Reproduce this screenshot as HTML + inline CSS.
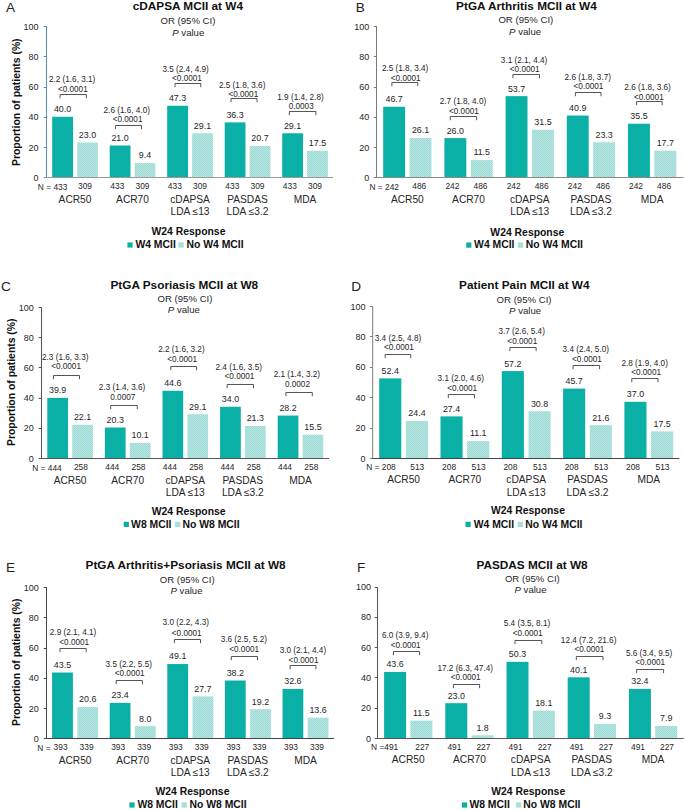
<!DOCTYPE html>
<html><head><meta charset="utf-8"><style>
html,body{margin:0;padding:0;background:#fff;}
body{width:685px;height:810px;overflow:hidden;}
svg{display:block;font-family:"Liberation Sans",sans-serif;}
</style></head><body>
<svg width="685" height="810" viewBox="0 0 685 810">
<defs><pattern id="hatch" patternUnits="userSpaceOnUse" width="2" height="2"><rect width="2" height="2" fill="#b6e6e2"/><rect width="1" height="1" fill="#9fdad5"/><rect x="1" y="1" width="1" height="1" fill="#9fdad5"/></pattern></defs>
<rect width="685" height="810" fill="#fff"/>
<text x="5.97" y="11.65" font-size="13.6" font-weight="normal" fill="#222" >A</text>
<text x="132.68" y="9.85" font-size="11.8" font-weight="bold" fill="#111" >cDAPSA MCII at W4</text>
<text x="160.47" y="24.35" font-size="9.6" font-weight="normal" fill="#262626" >OR (95% CI)</text>
<text x="172.27" y="36.35" font-size="9.6" fill="#262626"><tspan font-style="italic">P</tspan> value</text>
<line x1="43.70" y1="177.50" x2="46.50" y2="177.50" stroke="#5f8db0" stroke-width="1"/>
<text x="33.50" y="180.80" font-size="9" fill="#262626">0</text>
<line x1="43.70" y1="147.50" x2="46.50" y2="147.50" stroke="#5f8db0" stroke-width="1"/>
<text x="28.50" y="150.54" font-size="9" fill="#262626">20</text>
<line x1="43.70" y1="117.50" x2="46.50" y2="117.50" stroke="#5f8db0" stroke-width="1"/>
<text x="28.50" y="120.28" font-size="9" fill="#262626">40</text>
<line x1="43.70" y1="87.50" x2="46.50" y2="87.50" stroke="#5f8db0" stroke-width="1"/>
<text x="28.50" y="90.02" font-size="9" fill="#262626">60</text>
<line x1="43.70" y1="56.50" x2="46.50" y2="56.50" stroke="#5f8db0" stroke-width="1"/>
<text x="28.50" y="59.76" font-size="9" fill="#262626">80</text>
<line x1="43.70" y1="26.50" x2="46.50" y2="26.50" stroke="#5f8db0" stroke-width="1"/>
<text x="23.50" y="29.50" font-size="9" fill="#262626">100</text>
<line x1="46.50" y1="26.00" x2="46.50" y2="178.00" stroke="#5f8db0" stroke-width="1"/>
<rect x="52.20" y="116.78" width="20.80" height="60.52" fill="#0aafa5"/>
<rect x="77.10" y="142.50" width="20.80" height="34.80" fill="url(#hatch)"/>
<text x="53.95" y="112.18" font-size="8.9" font-weight="normal" fill="#262626" >40.0</text>
<text x="78.85" y="137.90" font-size="8.9" font-weight="normal" fill="#262626" >23.0</text>
<text x="48.90" y="82.25" font-size="8.2" font-weight="normal" fill="#262626" >2.2 (1.6, 3.1)</text>
<text x="57.92" y="92.05" font-size="8.2" font-weight="normal" fill="#262626" >&lt;0.0001</text>
<path d="M60.10,98.20 V94.50 H86.40 V98.20" stroke="#555" stroke-width="1" fill="none"/>
<text x="37.85" y="189.75" font-size="8.4" fill="#262626" xml:space="preserve">N = 433</text>
<text x="78.00" y="188.85" font-size="8.4" font-weight="normal" fill="#262626" >309</text>
<text x="58.60" y="202.70" font-size="10.2" font-weight="normal" fill="#262626" >ACR50</text>
<rect x="109.70" y="145.53" width="20.80" height="31.77" fill="#0aafa5"/>
<rect x="134.60" y="163.08" width="20.80" height="14.22" fill="url(#hatch)"/>
<text x="111.45" y="140.93" font-size="8.9" font-weight="normal" fill="#262626" >21.0</text>
<text x="138.82" y="158.48" font-size="8.9" font-weight="normal" fill="#262626" >9.4</text>
<text x="103.55" y="112.75" font-size="8.2" font-weight="normal" fill="#262626" >2.6 (1.6, 4.0)</text>
<text x="112.67" y="122.35" font-size="8.2" font-weight="normal" fill="#262626" >&lt;0.0001</text>
<path d="M115.40,129.20 V125.50 H141.50 V129.20" stroke="#555" stroke-width="1" fill="none"/>
<text x="110.35" y="188.85" font-size="8.4" font-weight="normal" fill="#262626" >433</text>
<text x="135.50" y="188.85" font-size="8.4" font-weight="normal" fill="#262626" >309</text>
<text x="116.10" y="202.70" font-size="10.2" font-weight="normal" fill="#262626" >ACR70</text>
<rect x="167.20" y="105.74" width="20.80" height="71.56" fill="#0aafa5"/>
<rect x="192.10" y="133.27" width="20.80" height="44.03" fill="url(#hatch)"/>
<text x="168.95" y="101.14" font-size="8.9" font-weight="normal" fill="#262626" >47.3</text>
<text x="193.85" y="128.67" font-size="8.9" font-weight="normal" fill="#262626" >29.1</text>
<text x="162.40" y="71.65" font-size="8.2" font-weight="normal" fill="#262626" >3.5 (2.4, 4.9)</text>
<text x="172.07" y="80.55" font-size="8.2" font-weight="normal" fill="#262626" >&lt;0.0001</text>
<path d="M175.00,87.20 V83.50 H200.80 V87.20" stroke="#555" stroke-width="1" fill="none"/>
<text x="167.85" y="188.85" font-size="8.4" font-weight="normal" fill="#262626" >433</text>
<text x="193.00" y="188.85" font-size="8.4" font-weight="normal" fill="#262626" >309</text>
<text x="170.20" y="202.70" font-size="10.2" font-weight="normal" fill="#262626" >cDAPSA</text>
<text x="170.52" y="214.80" font-size="10.2" font-weight="normal" fill="#262626" >LDA ≤13</text>
<rect x="224.70" y="122.38" width="20.80" height="54.92" fill="#0aafa5"/>
<rect x="249.60" y="145.98" width="20.80" height="31.32" fill="url(#hatch)"/>
<text x="226.45" y="117.78" font-size="8.9" font-weight="normal" fill="#262626" >36.3</text>
<text x="251.35" y="141.38" font-size="8.9" font-weight="normal" fill="#262626" >20.7</text>
<text x="218.95" y="87.75" font-size="8.2" font-weight="normal" fill="#262626" >2.5 (1.8, 3.6)</text>
<text x="228.38" y="96.65" font-size="8.2" font-weight="normal" fill="#262626" >&lt;0.0001</text>
<path d="M231.00,102.20 V98.50 H257.00 V102.20" stroke="#555" stroke-width="1" fill="none"/>
<text x="225.35" y="188.85" font-size="8.4" font-weight="normal" fill="#262626" >433</text>
<text x="250.50" y="188.85" font-size="8.4" font-weight="normal" fill="#262626" >309</text>
<text x="227.22" y="202.70" font-size="10.2" font-weight="normal" fill="#262626" >PASDAS</text>
<text x="226.60" y="214.80" font-size="10.2" font-weight="normal" fill="#262626" >LDA ≤3.2</text>
<rect x="282.20" y="133.27" width="20.80" height="44.03" fill="#0aafa5"/>
<rect x="307.10" y="150.82" width="20.80" height="26.48" fill="url(#hatch)"/>
<text x="283.95" y="128.67" font-size="8.9" font-weight="normal" fill="#262626" >29.1</text>
<text x="308.85" y="146.12" font-size="8.9" font-weight="normal" fill="#262626" >17.5</text>
<text x="277.25" y="100.15" font-size="8.2" font-weight="normal" fill="#262626" >1.9 (1.4, 2.8)</text>
<text x="288.65" y="109.15" font-size="8.2" font-weight="normal" fill="#262626" >0.0003</text>
<path d="M289.30,115.20 V111.50 H315.90 V115.20" stroke="#555" stroke-width="1" fill="none"/>
<text x="282.85" y="188.85" font-size="8.4" font-weight="normal" fill="#262626" >433</text>
<text x="308.00" y="188.85" font-size="8.4" font-weight="normal" fill="#262626" >309</text>
<text x="293.73" y="202.60" font-size="10.2" font-weight="normal" fill="#262626" >MDA</text>
<line x1="46.00" y1="177.50" x2="333.00" y2="177.50" stroke="#9a9a9a" stroke-width="1"/>
<text x="20.10" y="102.20" font-size="10.4" font-weight="bold" fill="#111" text-anchor="middle" transform="rotate(-90 20.10 102.20)">Proportion of patients (%)</text>
<text x="151.50" y="234.85" font-size="10.4" font-weight="bold" fill="#111" >W24 Response</text>
<rect x="127.40" y="242.40" width="5.20" height="5.20" fill="#0aafa5"/>
<text x="135.40" y="248.15" font-size="10.4" font-weight="bold" fill="#111" >W4 MCII</text>
<rect x="178.30" y="242.40" width="5.40" height="5.20" fill="#a8dfdb"/>
<text x="186.50" y="248.15" font-size="10.4" font-weight="bold" fill="#111" >No W4 MCII</text>
<text x="355.68" y="11.75" font-size="13.6" font-weight="normal" fill="#222" >B</text>
<text x="456.08" y="9.95" font-size="11.8" font-weight="bold" fill="#111" >PtGA Arthritis MCII at W4</text>
<text x="498.42" y="23.15" font-size="9.6" font-weight="normal" fill="#262626" >OR (95% CI)</text>
<text x="509.07" y="34.95" font-size="9.6" fill="#262626"><tspan font-style="italic">P</tspan> value</text>
<line x1="373.70" y1="177.50" x2="376.50" y2="177.50" stroke="#7a7a7a" stroke-width="1"/>
<text x="364.20" y="181.00" font-size="9" fill="#262626">0</text>
<line x1="373.70" y1="147.50" x2="376.50" y2="147.50" stroke="#7a7a7a" stroke-width="1"/>
<text x="359.20" y="150.70" font-size="9" fill="#262626">20</text>
<line x1="373.70" y1="117.50" x2="376.50" y2="117.50" stroke="#7a7a7a" stroke-width="1"/>
<text x="359.20" y="120.40" font-size="9" fill="#262626">40</text>
<line x1="373.70" y1="87.50" x2="376.50" y2="87.50" stroke="#7a7a7a" stroke-width="1"/>
<text x="359.20" y="90.10" font-size="9" fill="#262626">60</text>
<line x1="373.70" y1="56.50" x2="376.50" y2="56.50" stroke="#7a7a7a" stroke-width="1"/>
<text x="359.20" y="59.80" font-size="9" fill="#262626">80</text>
<line x1="373.70" y1="26.50" x2="376.50" y2="26.50" stroke="#7a7a7a" stroke-width="1"/>
<text x="354.20" y="29.50" font-size="9" fill="#262626">100</text>
<line x1="376.50" y1="26.00" x2="376.50" y2="178.00" stroke="#7a7a7a" stroke-width="1"/>
<rect x="383.20" y="106.75" width="21.90" height="70.75" fill="#0aafa5"/>
<rect x="409.60" y="137.96" width="21.90" height="39.54" fill="url(#hatch)"/>
<text x="385.50" y="102.15" font-size="8.9" font-weight="normal" fill="#262626" >46.7</text>
<text x="411.90" y="133.36" font-size="8.9" font-weight="normal" fill="#262626" >26.1</text>
<text x="381.90" y="71.05" font-size="8.2" font-weight="normal" fill="#262626" >2.5 (1.8, 3.4)</text>
<text x="390.82" y="80.65" font-size="8.2" font-weight="normal" fill="#262626" >&lt;0.0001</text>
<path d="M391.90,86.20 V82.50 H417.80 V86.20" stroke="#555" stroke-width="1" fill="none"/>
<text x="369.45" y="189.95" font-size="8.4" fill="#262626" xml:space="preserve">N = 242</text>
<text x="412.30" y="189.05" font-size="8.4" font-weight="normal" fill="#262626" >486</text>
<text x="390.90" y="202.90" font-size="10.2" font-weight="normal" fill="#262626" >ACR50</text>
<rect x="444.40" y="138.11" width="21.90" height="39.39" fill="#0aafa5"/>
<rect x="470.80" y="160.08" width="21.90" height="17.42" fill="url(#hatch)"/>
<text x="446.70" y="133.51" font-size="8.9" font-weight="normal" fill="#262626" >26.0</text>
<text x="473.42" y="155.38" font-size="8.9" font-weight="normal" fill="#262626" >11.5</text>
<text x="439.75" y="104.35" font-size="8.2" font-weight="normal" fill="#262626" >2.7 (1.8, 4.0)</text>
<text x="448.97" y="114.05" font-size="8.2" font-weight="normal" fill="#262626" >&lt;0.0001</text>
<path d="M450.30,120.20 V116.50 H476.70 V120.20" stroke="#555" stroke-width="1" fill="none"/>
<text x="445.45" y="189.05" font-size="8.4" font-weight="normal" fill="#262626" >242</text>
<text x="473.50" y="189.05" font-size="8.4" font-weight="normal" fill="#262626" >486</text>
<text x="452.10" y="202.90" font-size="10.2" font-weight="normal" fill="#262626" >ACR70</text>
<rect x="505.60" y="96.14" width="21.90" height="81.36" fill="#0aafa5"/>
<rect x="532.00" y="129.78" width="21.90" height="47.72" fill="url(#hatch)"/>
<text x="507.90" y="91.54" font-size="8.9" font-weight="normal" fill="#262626" >53.7</text>
<text x="534.30" y="125.18" font-size="8.9" font-weight="normal" fill="#262626" >31.5</text>
<text x="500.85" y="62.85" font-size="8.2" font-weight="normal" fill="#262626" >3.1 (2.1, 4.4)</text>
<text x="509.78" y="72.35" font-size="8.2" font-weight="normal" fill="#262626" >&lt;0.0001</text>
<path d="M512.90,78.20 V74.50 H539.50 V78.20" stroke="#555" stroke-width="1" fill="none"/>
<text x="506.65" y="189.05" font-size="8.4" font-weight="normal" fill="#262626" >242</text>
<text x="534.70" y="189.05" font-size="8.4" font-weight="normal" fill="#262626" >486</text>
<text x="509.90" y="202.90" font-size="10.2" font-weight="normal" fill="#262626" >cDAPSA</text>
<text x="510.23" y="215.00" font-size="10.2" font-weight="normal" fill="#262626" >LDA ≤13</text>
<rect x="566.80" y="115.54" width="21.90" height="61.96" fill="#0aafa5"/>
<rect x="593.20" y="142.20" width="21.90" height="35.30" fill="url(#hatch)"/>
<text x="569.10" y="110.94" font-size="8.9" font-weight="normal" fill="#262626" >40.9</text>
<text x="595.50" y="137.60" font-size="8.9" font-weight="normal" fill="#262626" >23.3</text>
<text x="564.55" y="80.05" font-size="8.2" font-weight="normal" fill="#262626" >2.6 (1.8, 3.7)</text>
<text x="573.58" y="89.45" font-size="8.2" font-weight="normal" fill="#262626" >&lt;0.0001</text>
<path d="M575.40,96.20 V92.50 H601.00 V96.20" stroke="#555" stroke-width="1" fill="none"/>
<text x="567.85" y="189.05" font-size="8.4" font-weight="normal" fill="#262626" >242</text>
<text x="595.90" y="189.05" font-size="8.4" font-weight="normal" fill="#262626" >486</text>
<text x="570.62" y="202.90" font-size="10.2" font-weight="normal" fill="#262626" >PASDAS</text>
<text x="570.00" y="215.00" font-size="10.2" font-weight="normal" fill="#262626" >LDA ≤3.2</text>
<rect x="628.00" y="123.72" width="21.90" height="53.78" fill="#0aafa5"/>
<rect x="654.40" y="150.68" width="21.90" height="26.82" fill="url(#hatch)"/>
<text x="630.30" y="119.12" font-size="8.9" font-weight="normal" fill="#262626" >35.5</text>
<text x="656.70" y="145.98" font-size="8.9" font-weight="normal" fill="#262626" >17.7</text>
<text x="624.35" y="89.65" font-size="8.2" font-weight="normal" fill="#262626" >2.6 (1.8, 3.6)</text>
<text x="633.88" y="99.75" font-size="8.2" font-weight="normal" fill="#262626" >&lt;0.0001</text>
<path d="M636.60,105.20 V101.50 H662.20 V105.20" stroke="#555" stroke-width="1" fill="none"/>
<text x="629.05" y="189.05" font-size="8.4" font-weight="normal" fill="#262626" >242</text>
<text x="657.10" y="189.05" font-size="8.4" font-weight="normal" fill="#262626" >486</text>
<text x="640.82" y="202.80" font-size="10.2" font-weight="normal" fill="#262626" >MDA</text>
<line x1="376.00" y1="177.50" x2="683.60" y2="177.50" stroke="#8a8a8a" stroke-width="1"/>
<text x="490.35" y="235.85" font-size="10.4" font-weight="bold" fill="#111" >W24 Response</text>
<rect x="466.20" y="242.50" width="5.20" height="5.20" fill="#0aafa5"/>
<text x="474.10" y="248.25" font-size="10.4" font-weight="bold" fill="#111" >W4 MCII</text>
<rect x="517.80" y="242.50" width="5.40" height="5.20" fill="#a8dfdb"/>
<text x="525.80" y="248.25" font-size="10.4" font-weight="bold" fill="#111" >No W4 MCII</text>
<text x="1.00" y="290.90" font-size="13.6" font-weight="normal" fill="#222" >C</text>
<text x="110.43" y="288.95" font-size="11.8" font-weight="bold" fill="#111" >PtGA Psoriasis MCII at W8</text>
<text x="157.53" y="301.85" font-size="9.6" font-weight="normal" fill="#262626" >OR (95% CI)</text>
<text x="167.82" y="313.35" font-size="9.6" fill="#262626"><tspan font-style="italic">P</tspan> value</text>
<line x1="38.70" y1="458.50" x2="41.50" y2="458.50" stroke="#555555" stroke-width="1"/>
<text x="28.70" y="461.70" font-size="9" fill="#262626">0</text>
<line x1="38.70" y1="428.50" x2="41.50" y2="428.50" stroke="#555555" stroke-width="1"/>
<text x="23.70" y="431.46" font-size="9" fill="#262626">20</text>
<line x1="38.70" y1="398.50" x2="41.50" y2="398.50" stroke="#555555" stroke-width="1"/>
<text x="23.70" y="401.22" font-size="9" fill="#262626">40</text>
<line x1="38.70" y1="367.50" x2="41.50" y2="367.50" stroke="#555555" stroke-width="1"/>
<text x="23.70" y="370.98" font-size="9" fill="#262626">60</text>
<line x1="38.70" y1="337.50" x2="41.50" y2="337.50" stroke="#555555" stroke-width="1"/>
<text x="23.70" y="340.74" font-size="9" fill="#262626">80</text>
<line x1="38.70" y1="307.50" x2="41.50" y2="307.50" stroke="#555555" stroke-width="1"/>
<text x="18.70" y="310.50" font-size="9" fill="#262626">100</text>
<line x1="41.50" y1="307.00" x2="41.50" y2="459.00" stroke="#555555" stroke-width="1"/>
<rect x="47.30" y="397.87" width="20.70" height="60.33" fill="#0aafa5"/>
<rect x="72.20" y="424.78" width="20.70" height="33.42" fill="url(#hatch)"/>
<text x="49.00" y="393.27" font-size="8.9" font-weight="normal" fill="#262626" >39.9</text>
<text x="73.90" y="420.18" font-size="8.9" font-weight="normal" fill="#262626" >22.1</text>
<text x="42.00" y="359.85" font-size="8.2" font-weight="normal" fill="#262626" >2.3 (1.6, 3.3)</text>
<text x="51.17" y="369.45" font-size="8.2" font-weight="normal" fill="#262626" >&lt;0.0001</text>
<path d="M53.50,379.20 V375.50 H79.50 V379.20" stroke="#555" stroke-width="1" fill="none"/>
<text x="32.15" y="470.60" font-size="8.4" fill="#262626" xml:space="preserve">N = 444</text>
<text x="73.95" y="469.75" font-size="8.4" font-weight="normal" fill="#262626" >258</text>
<text x="53.65" y="483.60" font-size="10.2" font-weight="normal" fill="#262626" >ACR50</text>
<rect x="104.90" y="427.51" width="20.70" height="30.69" fill="#0aafa5"/>
<rect x="129.80" y="442.93" width="20.70" height="15.27" fill="url(#hatch)"/>
<text x="106.60" y="422.91" font-size="8.9" font-weight="normal" fill="#262626" >20.3</text>
<text x="131.50" y="438.33" font-size="8.9" font-weight="normal" fill="#262626" >10.1</text>
<text x="98.85" y="389.85" font-size="8.2" font-weight="normal" fill="#262626" >2.3 (1.4, 3.6)</text>
<text x="110.25" y="399.55" font-size="8.2" font-weight="normal" fill="#262626" >0.0007</text>
<path d="M110.70,409.20 V405.50 H137.30 V409.20" stroke="#555" stroke-width="1" fill="none"/>
<text x="105.25" y="469.70" font-size="8.4" font-weight="normal" fill="#262626" >444</text>
<text x="131.55" y="469.75" font-size="8.4" font-weight="normal" fill="#262626" >258</text>
<text x="111.25" y="483.60" font-size="10.2" font-weight="normal" fill="#262626" >ACR70</text>
<rect x="162.50" y="390.76" width="20.70" height="67.44" fill="#0aafa5"/>
<rect x="187.40" y="414.20" width="20.70" height="44.00" fill="url(#hatch)"/>
<text x="164.20" y="386.16" font-size="8.9" font-weight="normal" fill="#262626" >44.6</text>
<text x="189.10" y="409.60" font-size="8.9" font-weight="normal" fill="#262626" >29.1</text>
<text x="158.20" y="352.15" font-size="8.2" font-weight="normal" fill="#262626" >2.2 (1.6, 3.2)</text>
<text x="167.27" y="361.65" font-size="8.2" font-weight="normal" fill="#262626" >&lt;0.0001</text>
<path d="M170.80,370.20 V366.50 H196.60 V370.20" stroke="#555" stroke-width="1" fill="none"/>
<text x="162.85" y="469.70" font-size="8.4" font-weight="normal" fill="#262626" >444</text>
<text x="189.15" y="469.75" font-size="8.4" font-weight="normal" fill="#262626" >258</text>
<text x="165.45" y="483.60" font-size="10.2" font-weight="normal" fill="#262626" >cDAPSA</text>
<text x="165.78" y="495.70" font-size="10.2" font-weight="normal" fill="#262626" >LDA ≤13</text>
<rect x="220.10" y="406.79" width="20.70" height="51.41" fill="#0aafa5"/>
<rect x="245.00" y="425.99" width="20.70" height="32.21" fill="url(#hatch)"/>
<text x="221.80" y="402.19" font-size="8.9" font-weight="normal" fill="#262626" >34.0</text>
<text x="246.70" y="421.39" font-size="8.9" font-weight="normal" fill="#262626" >21.3</text>
<text x="215.50" y="369.65" font-size="8.2" font-weight="normal" fill="#262626" >2.4 (1.6, 3.5)</text>
<text x="224.52" y="379.15" font-size="8.2" font-weight="normal" fill="#262626" >&lt;0.0001</text>
<path d="M227.10,388.20 V384.50 H253.50 V388.20" stroke="#555" stroke-width="1" fill="none"/>
<text x="220.45" y="469.70" font-size="8.4" font-weight="normal" fill="#262626" >444</text>
<text x="246.75" y="469.75" font-size="8.4" font-weight="normal" fill="#262626" >258</text>
<text x="222.58" y="483.60" font-size="10.2" font-weight="normal" fill="#262626" >PASDAS</text>
<text x="221.95" y="495.70" font-size="10.2" font-weight="normal" fill="#262626" >LDA ≤3.2</text>
<rect x="277.70" y="415.56" width="20.70" height="42.64" fill="#0aafa5"/>
<rect x="302.60" y="434.76" width="20.70" height="23.44" fill="url(#hatch)"/>
<text x="279.40" y="410.96" font-size="8.9" font-weight="normal" fill="#262626" >28.2</text>
<text x="304.30" y="430.06" font-size="8.9" font-weight="normal" fill="#262626" >15.5</text>
<text x="273.65" y="377.35" font-size="8.2" font-weight="normal" fill="#262626" >2.1 (1.4, 3.2)</text>
<text x="284.95" y="386.95" font-size="8.2" font-weight="normal" fill="#262626" >0.0002</text>
<path d="M285.90,396.20 V392.50 H312.30 V396.20" stroke="#555" stroke-width="1" fill="none"/>
<text x="278.05" y="469.70" font-size="8.4" font-weight="normal" fill="#262626" >444</text>
<text x="304.35" y="469.75" font-size="8.4" font-weight="normal" fill="#262626" >258</text>
<text x="289.18" y="483.50" font-size="10.2" font-weight="normal" fill="#262626" >MDA</text>
<line x1="41.00" y1="458.50" x2="329.00" y2="458.50" stroke="#555555" stroke-width="1"/>
<text x="14.75" y="382.25" font-size="10.4" font-weight="bold" fill="#111" text-anchor="middle" transform="rotate(-90 14.75 382.25)">Proportion of patients (%)</text>
<text x="151.70" y="514.85" font-size="10.4" font-weight="bold" fill="#111" >W24 Response</text>
<rect x="123.70" y="521.80" width="5.20" height="5.20" fill="#0aafa5"/>
<text x="131.10" y="527.55" font-size="10.4" font-weight="bold" fill="#111" >W8 MCII</text>
<rect x="175.00" y="521.80" width="5.40" height="5.20" fill="#a8dfdb"/>
<text x="182.50" y="527.55" font-size="10.4" font-weight="bold" fill="#111" >No W8 MCII</text>
<text x="351.35" y="291.45" font-size="13.6" font-weight="normal" fill="#222" >D</text>
<text x="459.12" y="289.45" font-size="11.8" font-weight="bold" fill="#111" >Patient Pain MCII at W4</text>
<text x="496.62" y="302.85" font-size="9.6" font-weight="normal" fill="#262626" >OR (95% CI)</text>
<text x="509.07" y="313.85" font-size="9.6" fill="#262626"><tspan font-style="italic">P</tspan> value</text>
<line x1="369.90" y1="458.50" x2="372.70" y2="458.50" stroke="#7a7a7a" stroke-width="1"/>
<text x="360.50" y="461.50" font-size="9" fill="#262626">0</text>
<line x1="369.90" y1="428.50" x2="372.70" y2="428.50" stroke="#7a7a7a" stroke-width="1"/>
<text x="355.50" y="431.12" font-size="9" fill="#262626">20</text>
<line x1="369.90" y1="397.50" x2="372.70" y2="397.50" stroke="#7a7a7a" stroke-width="1"/>
<text x="355.50" y="400.74" font-size="9" fill="#262626">40</text>
<line x1="369.90" y1="367.50" x2="372.70" y2="367.50" stroke="#7a7a7a" stroke-width="1"/>
<text x="355.50" y="370.36" font-size="9" fill="#262626">60</text>
<line x1="369.90" y1="336.50" x2="372.70" y2="336.50" stroke="#7a7a7a" stroke-width="1"/>
<text x="355.50" y="339.98" font-size="9" fill="#262626">80</text>
<line x1="369.90" y1="306.50" x2="372.70" y2="306.50" stroke="#7a7a7a" stroke-width="1"/>
<text x="350.50" y="309.60" font-size="9" fill="#262626">100</text>
<line x1="372.70" y1="306.00" x2="372.70" y2="459.00" stroke="#7a7a7a" stroke-width="1"/>
<rect x="379.20" y="378.40" width="22.10" height="79.60" fill="#0aafa5"/>
<rect x="405.90" y="420.94" width="22.10" height="37.06" fill="url(#hatch)"/>
<text x="381.60" y="373.80" font-size="8.9" font-weight="normal" fill="#262626" >52.4</text>
<text x="408.30" y="416.34" font-size="8.9" font-weight="normal" fill="#262626" >24.4</text>
<text x="374.75" y="340.75" font-size="8.2" font-weight="normal" fill="#262626" >3.4 (2.5, 4.8)</text>
<text x="384.02" y="349.65" font-size="8.2" font-weight="normal" fill="#262626" >&lt;0.0001</text>
<path d="M385.20,358.20 V354.50 H410.70 V358.20" stroke="#555" stroke-width="1" fill="none"/>
<text x="366.15" y="470.45" font-size="8.4" fill="#262626" xml:space="preserve">N = 208</text>
<text x="410.30" y="469.55" font-size="8.4" font-weight="normal" fill="#262626" >513</text>
<text x="387.15" y="483.40" font-size="10.2" font-weight="normal" fill="#262626" >ACR50</text>
<rect x="440.50" y="416.38" width="22.10" height="41.62" fill="#0aafa5"/>
<rect x="467.20" y="441.14" width="22.10" height="16.86" fill="url(#hatch)"/>
<text x="442.90" y="411.78" font-size="8.9" font-weight="normal" fill="#262626" >27.4</text>
<text x="469.93" y="436.44" font-size="8.9" font-weight="normal" fill="#262626" >11.1</text>
<text x="437.55" y="381.45" font-size="8.2" font-weight="normal" fill="#262626" >3.1 (2.0, 4.6)</text>
<text x="447.27" y="391.05" font-size="8.2" font-weight="normal" fill="#262626" >&lt;0.0001</text>
<path d="M448.30,398.20 V394.50 H474.50 V398.20" stroke="#555" stroke-width="1" fill="none"/>
<text x="442.10" y="469.55" font-size="8.4" font-weight="normal" fill="#262626" >208</text>
<text x="471.60" y="469.55" font-size="8.4" font-weight="normal" fill="#262626" >513</text>
<text x="448.45" y="483.40" font-size="10.2" font-weight="normal" fill="#262626" >ACR70</text>
<rect x="501.80" y="371.11" width="22.10" height="86.89" fill="#0aafa5"/>
<rect x="528.50" y="411.21" width="22.10" height="46.79" fill="url(#hatch)"/>
<text x="504.20" y="366.51" font-size="8.9" font-weight="normal" fill="#262626" >57.2</text>
<text x="530.90" y="406.61" font-size="8.9" font-weight="normal" fill="#262626" >30.8</text>
<text x="498.45" y="334.35" font-size="8.2" font-weight="normal" fill="#262626" >3.7 (2.6, 5.4)</text>
<text x="507.37" y="343.75" font-size="8.2" font-weight="normal" fill="#262626" >&lt;0.0001</text>
<path d="M509.90,351.20 V347.50 H536.10 V351.20" stroke="#555" stroke-width="1" fill="none"/>
<text x="503.40" y="469.55" font-size="8.4" font-weight="normal" fill="#262626" >208</text>
<text x="532.90" y="469.55" font-size="8.4" font-weight="normal" fill="#262626" >513</text>
<text x="506.35" y="483.40" font-size="10.2" font-weight="normal" fill="#262626" >cDAPSA</text>
<text x="506.67" y="495.50" font-size="10.2" font-weight="normal" fill="#262626" >LDA ≤13</text>
<rect x="563.10" y="388.58" width="22.10" height="69.42" fill="#0aafa5"/>
<rect x="589.80" y="425.19" width="22.10" height="32.81" fill="url(#hatch)"/>
<text x="565.50" y="383.88" font-size="8.9" font-weight="normal" fill="#262626" >45.7</text>
<text x="592.20" y="420.59" font-size="8.9" font-weight="normal" fill="#262626" >21.6</text>
<text x="562.55" y="351.95" font-size="8.2" font-weight="normal" fill="#262626" >3.4 (2.4, 5.0)</text>
<text x="572.08" y="361.75" font-size="8.2" font-weight="normal" fill="#262626" >&lt;0.0001</text>
<path d="M573.10,369.20 V365.50 H599.60 V369.20" stroke="#555" stroke-width="1" fill="none"/>
<text x="564.70" y="469.55" font-size="8.4" font-weight="normal" fill="#262626" >208</text>
<text x="594.20" y="469.55" font-size="8.4" font-weight="normal" fill="#262626" >513</text>
<text x="567.17" y="483.40" font-size="10.2" font-weight="normal" fill="#262626" >PASDAS</text>
<text x="566.55" y="495.50" font-size="10.2" font-weight="normal" fill="#262626" >LDA ≤3.2</text>
<rect x="624.40" y="401.80" width="22.10" height="56.20" fill="#0aafa5"/>
<rect x="651.10" y="431.42" width="22.10" height="26.58" fill="url(#hatch)"/>
<text x="626.80" y="397.20" font-size="8.9" font-weight="normal" fill="#262626" >37.0</text>
<text x="653.50" y="426.72" font-size="8.9" font-weight="normal" fill="#262626" >17.5</text>
<text x="621.45" y="365.65" font-size="8.2" font-weight="normal" fill="#262626" >2.8 (1.9, 4.0)</text>
<text x="631.18" y="375.15" font-size="8.2" font-weight="normal" fill="#262626" >&lt;0.0001</text>
<path d="M631.80,382.20 V378.50 H658.00 V382.20" stroke="#555" stroke-width="1" fill="none"/>
<text x="626.00" y="469.55" font-size="8.4" font-weight="normal" fill="#262626" >208</text>
<text x="655.50" y="469.55" font-size="8.4" font-weight="normal" fill="#262626" >513</text>
<text x="637.47" y="483.30" font-size="10.2" font-weight="normal" fill="#262626" >MDA</text>
<line x1="372.20" y1="458.50" x2="679.30" y2="458.50" stroke="#444444" stroke-width="1"/>
<text x="491.00" y="514.15" font-size="10.4" font-weight="bold" fill="#111" >W24 Response</text>
<rect x="465.50" y="521.80" width="5.20" height="5.20" fill="#0aafa5"/>
<text x="473.70" y="527.55" font-size="10.4" font-weight="bold" fill="#111" >W4 MCII</text>
<rect x="517.60" y="521.80" width="5.40" height="5.20" fill="#a8dfdb"/>
<text x="525.30" y="527.55" font-size="10.4" font-weight="bold" fill="#111" >No W4 MCII</text>
<text x="5.88" y="571.95" font-size="13.6" font-weight="normal" fill="#222" >E</text>
<text x="85.55" y="569.25" font-size="11.8" font-weight="bold" fill="#111" >PtGA Arthritis+Psoriasis MCII at W8</text>
<text x="159.72" y="582.75" font-size="9.6" font-weight="normal" fill="#262626" >OR (95% CI)</text>
<text x="170.52" y="594.45" font-size="9.6" fill="#262626"><tspan font-style="italic">P</tspan> value</text>
<line x1="43.70" y1="738.50" x2="46.50" y2="738.50" stroke="#444444" stroke-width="1"/>
<text x="33.80" y="741.70" font-size="9" fill="#262626">0</text>
<line x1="43.70" y1="708.50" x2="46.50" y2="708.50" stroke="#444444" stroke-width="1"/>
<text x="28.80" y="711.50" font-size="9" fill="#262626">20</text>
<line x1="43.70" y1="678.50" x2="46.50" y2="678.50" stroke="#444444" stroke-width="1"/>
<text x="28.80" y="681.30" font-size="9" fill="#262626">40</text>
<line x1="43.70" y1="648.50" x2="46.50" y2="648.50" stroke="#444444" stroke-width="1"/>
<text x="28.80" y="651.10" font-size="9" fill="#262626">60</text>
<line x1="43.70" y1="617.50" x2="46.50" y2="617.50" stroke="#444444" stroke-width="1"/>
<text x="28.80" y="620.90" font-size="9" fill="#262626">80</text>
<line x1="43.70" y1="587.50" x2="46.50" y2="587.50" stroke="#444444" stroke-width="1"/>
<text x="23.80" y="590.70" font-size="9" fill="#262626">100</text>
<line x1="46.50" y1="587.00" x2="46.50" y2="739.00" stroke="#444444" stroke-width="1"/>
<rect x="52.10" y="672.52" width="20.80" height="65.69" fill="#0aafa5"/>
<rect x="77.30" y="707.09" width="20.80" height="31.11" fill="url(#hatch)"/>
<text x="53.85" y="667.92" font-size="8.9" font-weight="normal" fill="#262626" >43.5</text>
<text x="79.05" y="702.49" font-size="8.9" font-weight="normal" fill="#262626" >20.6</text>
<text x="49.85" y="635.15" font-size="8.2" font-weight="normal" fill="#262626" >2.9 (2.1, 4.1)</text>
<text x="59.33" y="644.75" font-size="8.2" font-weight="normal" fill="#262626" >&lt;0.0001</text>
<path d="M60.00,652.20 V648.50 H86.20 V652.20" stroke="#555" stroke-width="1" fill="none"/>
<text x="37.30" y="750.60" font-size="8.4" fill="#262626" xml:space="preserve">N =</text>
<text x="53.60" y="749.75" font-size="8.4" font-weight="normal" fill="#262626" >393</text>
<text x="79.60" y="749.75" font-size="8.4" font-weight="normal" fill="#262626" >339</text>
<text x="58.65" y="763.60" font-size="10.2" font-weight="normal" fill="#262626" >ACR50</text>
<rect x="109.70" y="702.87" width="20.80" height="35.33" fill="#0aafa5"/>
<rect x="134.90" y="726.12" width="20.80" height="12.08" fill="url(#hatch)"/>
<text x="111.45" y="698.27" font-size="8.9" font-weight="normal" fill="#262626" >23.4</text>
<text x="139.12" y="721.52" font-size="8.9" font-weight="normal" fill="#262626" >8.0</text>
<text x="105.55" y="667.05" font-size="8.2" font-weight="normal" fill="#262626" >3.5 (2.2, 5.5)</text>
<text x="114.73" y="676.45" font-size="8.2" font-weight="normal" fill="#262626" >&lt;0.0001</text>
<path d="M116.20,684.20 V680.50 H142.40 V684.20" stroke="#555" stroke-width="1" fill="none"/>
<text x="111.20" y="749.75" font-size="8.4" font-weight="normal" fill="#262626" >393</text>
<text x="137.20" y="749.75" font-size="8.4" font-weight="normal" fill="#262626" >339</text>
<text x="116.25" y="763.60" font-size="10.2" font-weight="normal" fill="#262626" >ACR70</text>
<rect x="167.30" y="664.06" width="20.80" height="74.14" fill="#0aafa5"/>
<rect x="192.50" y="696.37" width="20.80" height="41.83" fill="url(#hatch)"/>
<text x="169.05" y="659.46" font-size="8.9" font-weight="normal" fill="#262626" >49.1</text>
<text x="194.25" y="691.77" font-size="8.9" font-weight="normal" fill="#262626" >27.7</text>
<text x="162.55" y="625.45" font-size="8.2" font-weight="normal" fill="#262626" >3.0 (2.2, 4.3)</text>
<text x="171.82" y="635.85" font-size="8.2" font-weight="normal" fill="#262626" >&lt;0.0001</text>
<path d="M174.40,643.20 V639.50 H200.50 V643.20" stroke="#555" stroke-width="1" fill="none"/>
<text x="168.80" y="749.75" font-size="8.4" font-weight="normal" fill="#262626" >393</text>
<text x="194.80" y="749.75" font-size="8.4" font-weight="normal" fill="#262626" >339</text>
<text x="170.45" y="763.60" font-size="10.2" font-weight="normal" fill="#262626" >cDAPSA</text>
<text x="170.78" y="775.70" font-size="10.2" font-weight="normal" fill="#262626" >LDA ≤13</text>
<rect x="224.90" y="680.52" width="20.80" height="57.68" fill="#0aafa5"/>
<rect x="250.10" y="709.21" width="20.80" height="28.99" fill="url(#hatch)"/>
<text x="226.65" y="675.92" font-size="8.9" font-weight="normal" fill="#262626" >38.2</text>
<text x="251.85" y="704.61" font-size="8.9" font-weight="normal" fill="#262626" >19.2</text>
<text x="220.65" y="642.15" font-size="8.2" font-weight="normal" fill="#262626" >3.6 (2.5, 5.2)</text>
<text x="229.22" y="652.45" font-size="8.2" font-weight="normal" fill="#262626" >&lt;0.0001</text>
<path d="M231.30,660.20 V656.50 H257.60 V660.20" stroke="#555" stroke-width="1" fill="none"/>
<text x="226.40" y="749.75" font-size="8.4" font-weight="normal" fill="#262626" >393</text>
<text x="252.40" y="749.75" font-size="8.4" font-weight="normal" fill="#262626" >339</text>
<text x="227.58" y="763.60" font-size="10.2" font-weight="normal" fill="#262626" >PASDAS</text>
<text x="226.95" y="775.70" font-size="10.2" font-weight="normal" fill="#262626" >LDA ≤3.2</text>
<rect x="282.50" y="688.97" width="20.80" height="49.23" fill="#0aafa5"/>
<rect x="307.70" y="717.66" width="20.80" height="20.54" fill="url(#hatch)"/>
<text x="284.25" y="684.37" font-size="8.9" font-weight="normal" fill="#262626" >32.6</text>
<text x="309.45" y="713.06" font-size="8.9" font-weight="normal" fill="#262626" >13.6</text>
<text x="279.70" y="652.65" font-size="8.2" font-weight="normal" fill="#262626" >3.0 (2.1, 4.4)</text>
<text x="288.62" y="662.75" font-size="8.2" font-weight="normal" fill="#262626" >&lt;0.0001</text>
<path d="M290.10,669.20 V665.50 H315.90 V669.20" stroke="#555" stroke-width="1" fill="none"/>
<text x="284.00" y="749.75" font-size="8.4" font-weight="normal" fill="#262626" >393</text>
<text x="310.00" y="749.75" font-size="8.4" font-weight="normal" fill="#262626" >339</text>
<text x="294.18" y="763.50" font-size="10.2" font-weight="normal" fill="#262626" >MDA</text>
<line x1="46.00" y1="738.50" x2="334.00" y2="738.50" stroke="#444444" stroke-width="1"/>
<text x="20.10" y="662.25" font-size="10.4" font-weight="bold" fill="#111" text-anchor="middle" transform="rotate(-90 20.10 662.25)">Proportion of patients (%)</text>
<text x="155.50" y="794.85" font-size="10.4" font-weight="bold" fill="#111" >W24 Response</text>
<rect x="129.40" y="802.40" width="5.20" height="5.20" fill="#0aafa5"/>
<text x="137.40" y="808.15" font-size="10.4" font-weight="bold" fill="#111" >W8 MCII</text>
<rect x="181.60" y="802.40" width="5.40" height="5.20" fill="#a8dfdb"/>
<text x="189.50" y="808.15" font-size="10.4" font-weight="bold" fill="#111" >No W8 MCII</text>
<text x="357.05" y="571.95" font-size="13.6" font-weight="normal" fill="#222" >F</text>
<text x="476.42" y="569.05" font-size="11.8" font-weight="bold" fill="#111" >PASDAS MCII at W8</text>
<text x="504.92" y="582.45" font-size="9.6" font-weight="normal" fill="#262626" >OR (95% CI)</text>
<text x="514.53" y="592.75" font-size="9.6" fill="#262626"><tspan font-style="italic">P</tspan> value</text>
<line x1="374.70" y1="738.50" x2="377.50" y2="738.50" stroke="#555555" stroke-width="1"/>
<text x="366.00" y="741.50" font-size="9" fill="#262626">0</text>
<line x1="374.70" y1="708.50" x2="377.50" y2="708.50" stroke="#555555" stroke-width="1"/>
<text x="361.00" y="711.22" font-size="9" fill="#262626">20</text>
<line x1="374.70" y1="677.50" x2="377.50" y2="677.50" stroke="#555555" stroke-width="1"/>
<text x="361.00" y="680.94" font-size="9" fill="#262626">40</text>
<line x1="374.70" y1="647.50" x2="377.50" y2="647.50" stroke="#555555" stroke-width="1"/>
<text x="361.00" y="650.66" font-size="9" fill="#262626">60</text>
<line x1="374.70" y1="617.50" x2="377.50" y2="617.50" stroke="#555555" stroke-width="1"/>
<text x="361.00" y="620.38" font-size="9" fill="#262626">80</text>
<line x1="374.70" y1="587.50" x2="377.50" y2="587.50" stroke="#555555" stroke-width="1"/>
<text x="356.00" y="590.10" font-size="9" fill="#262626">100</text>
<line x1="377.50" y1="587.00" x2="377.50" y2="739.00" stroke="#555555" stroke-width="1"/>
<rect x="384.10" y="671.99" width="22.00" height="66.01" fill="#0aafa5"/>
<rect x="410.40" y="720.59" width="22.00" height="17.41" fill="url(#hatch)"/>
<text x="386.45" y="667.39" font-size="8.9" font-weight="normal" fill="#262626" >43.6</text>
<text x="413.08" y="715.89" font-size="8.9" font-weight="normal" fill="#262626" >11.5</text>
<text x="381.95" y="637.85" font-size="8.2" font-weight="normal" fill="#262626" >6.0 (3.9, 9.4)</text>
<text x="390.77" y="647.65" font-size="8.2" font-weight="normal" fill="#262626" >&lt;0.0001</text>
<path d="M393.40,655.20 V651.50 H419.60 V655.20" stroke="#555" stroke-width="1" fill="none"/>
<text x="371.00" y="750.45" font-size="8.4" fill="#262626" xml:space="preserve">N =491</text>
<text x="415.25" y="749.55" font-size="8.4" font-weight="normal" fill="#262626" >227</text>
<text x="391.80" y="763.40" font-size="10.2" font-weight="normal" fill="#262626" >ACR50</text>
<rect x="445.30" y="703.18" width="22.00" height="34.82" fill="#0aafa5"/>
<rect x="471.60" y="735.27" width="22.00" height="2.73" fill="url(#hatch)"/>
<text x="447.65" y="698.58" font-size="8.9" font-weight="normal" fill="#262626" >23.0</text>
<text x="476.43" y="730.67" font-size="8.9" font-weight="normal" fill="#262626" >1.8</text>
<text x="437.45" y="670.55" font-size="8.2" font-weight="normal" fill="#262626" >17.2 (6.3, 47.4)</text>
<text x="450.77" y="680.35" font-size="8.2" font-weight="normal" fill="#262626" >&lt;0.0001</text>
<path d="M453.40,688.20 V684.50 H479.60 V688.20" stroke="#555" stroke-width="1" fill="none"/>
<text x="447.40" y="749.55" font-size="8.4" font-weight="normal" fill="#262626" >491</text>
<text x="476.45" y="749.55" font-size="8.4" font-weight="normal" fill="#262626" >227</text>
<text x="453.00" y="763.40" font-size="10.2" font-weight="normal" fill="#262626" >ACR70</text>
<rect x="506.50" y="661.85" width="22.00" height="76.15" fill="#0aafa5"/>
<rect x="532.80" y="710.60" width="22.00" height="27.40" fill="url(#hatch)"/>
<text x="508.85" y="657.25" font-size="8.9" font-weight="normal" fill="#262626" >50.3</text>
<text x="535.15" y="706.00" font-size="8.9" font-weight="normal" fill="#262626" >18.1</text>
<text x="503.75" y="626.25" font-size="8.2" font-weight="normal" fill="#262626" >5.4 (3.5, 8.1)</text>
<text x="512.83" y="636.05" font-size="8.2" font-weight="normal" fill="#262626" >&lt;0.0001</text>
<path d="M515.00,644.20 V640.50 H541.80 V644.20" stroke="#555" stroke-width="1" fill="none"/>
<text x="508.60" y="749.55" font-size="8.4" font-weight="normal" fill="#262626" >491</text>
<text x="537.65" y="749.55" font-size="8.4" font-weight="normal" fill="#262626" >227</text>
<text x="510.80" y="763.40" font-size="10.2" font-weight="normal" fill="#262626" >cDAPSA</text>
<text x="511.12" y="775.50" font-size="10.2" font-weight="normal" fill="#262626" >LDA ≤13</text>
<rect x="567.70" y="677.29" width="22.00" height="60.71" fill="#0aafa5"/>
<rect x="594.00" y="723.92" width="22.00" height="14.08" fill="url(#hatch)"/>
<text x="570.05" y="672.69" font-size="8.9" font-weight="normal" fill="#262626" >40.1</text>
<text x="598.83" y="719.32" font-size="8.9" font-weight="normal" fill="#262626" >9.3</text>
<text x="560.85" y="642.55" font-size="8.2" font-weight="normal" fill="#262626" >12.4 (7.2, 21.6)</text>
<text x="574.53" y="652.25" font-size="8.2" font-weight="normal" fill="#262626" >&lt;0.0001</text>
<path d="M576.30,660.20 V656.50 H603.00 V660.20" stroke="#555" stroke-width="1" fill="none"/>
<text x="569.80" y="749.55" font-size="8.4" font-weight="normal" fill="#262626" >491</text>
<text x="598.85" y="749.55" font-size="8.4" font-weight="normal" fill="#262626" >227</text>
<text x="571.52" y="763.40" font-size="10.2" font-weight="normal" fill="#262626" >PASDAS</text>
<text x="570.90" y="775.50" font-size="10.2" font-weight="normal" fill="#262626" >LDA ≤3.2</text>
<rect x="628.90" y="688.95" width="22.00" height="49.05" fill="#0aafa5"/>
<rect x="655.20" y="726.04" width="22.00" height="11.96" fill="url(#hatch)"/>
<text x="631.25" y="684.35" font-size="8.9" font-weight="normal" fill="#262626" >32.4</text>
<text x="660.03" y="721.44" font-size="8.9" font-weight="normal" fill="#262626" >7.9</text>
<text x="625.90" y="656.15" font-size="8.2" font-weight="normal" fill="#262626" >5.6 (3.4, 9.5)</text>
<text x="635.23" y="665.35" font-size="8.2" font-weight="normal" fill="#262626" >&lt;0.0001</text>
<path d="M636.60,673.20 V669.50 H663.60 V673.20" stroke="#555" stroke-width="1" fill="none"/>
<text x="631.00" y="749.55" font-size="8.4" font-weight="normal" fill="#262626" >491</text>
<text x="660.05" y="749.55" font-size="8.4" font-weight="normal" fill="#262626" >227</text>
<text x="641.73" y="763.30" font-size="10.2" font-weight="normal" fill="#262626" >MDA</text>
<line x1="377.00" y1="738.50" x2="683.60" y2="738.50" stroke="#555555" stroke-width="1"/>
<text x="491.25" y="794.85" font-size="10.4" font-weight="bold" fill="#111" >W24 Response</text>
<rect x="462.00" y="802.40" width="5.20" height="5.20" fill="#0aafa5"/>
<text x="469.40" y="808.15" font-size="10.4" font-weight="bold" fill="#111" >W8 MCII</text>
<rect x="515.80" y="802.40" width="5.40" height="5.20" fill="#a8dfdb"/>
<text x="523.30" y="808.15" font-size="10.4" font-weight="bold" fill="#111" >No W8 MCII</text>
</svg></body></html>
